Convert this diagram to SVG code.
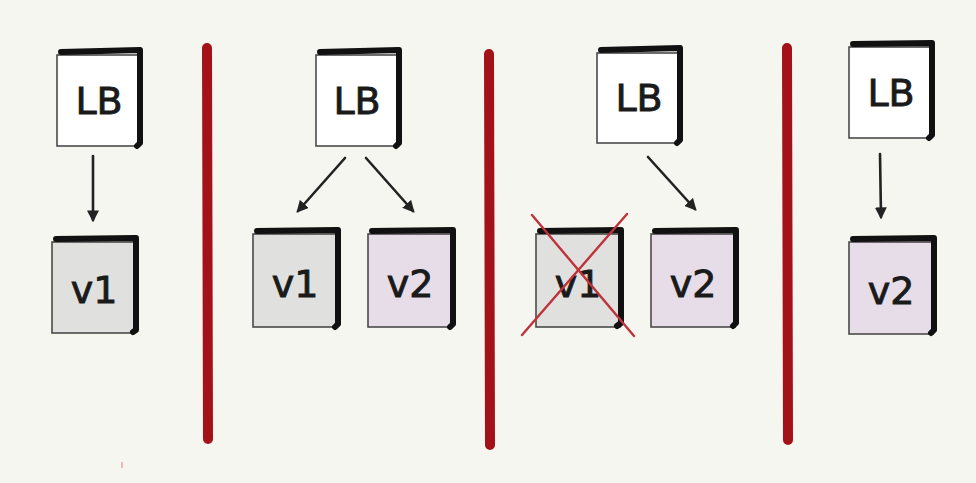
<svg xmlns="http://www.w3.org/2000/svg" width="976" height="483" viewBox="0 0 976 483">
<defs>
<style>
.face{stroke:#4a4a4a;stroke-width:1.6}
.lb{fill:#ffffff}
.g{fill:#e0e1de}
.p{fill:#e6dde8}
.edge{fill:none;stroke:#111;stroke-width:6;stroke-linecap:round;stroke-linejoin:round}
.t{font-family:"DejaVu Sans",sans-serif;font-size:38px;fill:#1a1a1a;stroke:#1a1a1a;stroke-width:0.9;text-anchor:middle}
.con{fill:none;stroke:#222;stroke-width:2.6;stroke-linecap:round}
.bar{stroke:#a31219;stroke-width:10;stroke-linecap:round}
.x{stroke:#c0323a;stroke-width:2.4;stroke-linecap:round}
</style>
<marker id="ah" viewBox="0 0 10 10" refX="8" refY="5" markerWidth="4.6" markerHeight="4.6" orient="auto">
<path d="M0,0 L10,5 L0,10 z" fill="#222"/>
</marker>
</defs>
<rect width="976" height="483" fill="#f5f6f0"/>

<g id="dividers">
<line class="bar" x1="207" y1="48" x2="208" y2="439"/>
<line class="bar" x1="489" y1="54" x2="490" y2="445"/>
<line class="bar" x1="787" y1="48" x2="788" y2="440"/>
<line x1="122" y1="462" x2="122" y2="468" stroke="#e08080" stroke-width="1"/>
</g>

<g id="connectors">
<line class="con" x1="93" y1="156" x2="93" y2="220" marker-end="url(#ah)"/>
<line class="con" x1="345" y1="158" x2="298" y2="211" marker-end="url(#ah)"/>
<line class="con" x1="366" y1="158" x2="413" y2="211" marker-end="url(#ah)"/>
<line class="con" x1="648" y1="157" x2="695" y2="209" marker-end="url(#ah)"/>
<line class="con" x1="880" y1="154" x2="881" y2="217" marker-end="url(#ah)"/>
</g>

<g id="lb1">
<rect class="face lb" x="57" y="55" width="82" height="91"/>
<path class="edge" d="M61,52 L140,50 L140,143 L137,146"/>
<text class="t" x="99" y="114">LB</text>
</g>
<g id="v1a">
<rect class="face g" x="52" y="242" width="82" height="91"/>
<path class="edge" d="M56,239 L136,238 L136,330 L133,332"/>
<text class="t" x="94" y="303">v1</text>
</g>

<g id="lb2">
<rect class="face lb" x="316" y="55" width="81" height="91"/>
<path class="edge" d="M320,52 L399,50 L399,143 L396,146"/>
<text class="t" x="357" y="114">LB</text>
</g>
<g id="v1b">
<rect class="face g" x="253" y="234" width="84" height="93"/>
<path class="edge" d="M257,231 L338,230 L338,324 L335,327"/>
<text class="t" x="295" y="297">v1</text>
</g>
<g id="v2b">
<rect class="face p" x="368" y="234" width="84" height="93"/>
<path class="edge" d="M372,231 L453,230 L453,324 L450,327"/>
<text class="t" x="410" y="297">v2</text>
</g>

<g id="lb3">
<rect class="face lb" x="597" y="53" width="82" height="90"/>
<path class="edge" d="M601,50 L680,48 L680,140 L677,143"/>
<text class="t" x="639" y="111">LB</text>
</g>
<g id="v1c">
<rect class="face g" x="536" y="234" width="84" height="93"/>
<path class="edge" d="M540,231 L621,230 L621,323 L617,326"/>
<text class="t" x="578" y="297">v1</text>
<line class="x" x1="532" y1="215" x2="634" y2="336"/>
<line class="x" x1="627" y1="214" x2="522" y2="335"/>
</g>
<g id="v2c">
<rect class="face p" x="651" y="234" width="84" height="93"/>
<path class="edge" d="M655,231 L736,230 L736,323 L733,326"/>
<text class="t" x="693" y="297">v2</text>
</g>

<g id="lb4">
<rect class="face lb" x="849" y="47" width="82" height="91"/>
<path class="edge" d="M853,44 L932,43 L932,135 L929,138"/>
<text class="t" x="891" y="106">LB</text>
</g>
<g id="v2d">
<rect class="face p" x="849" y="242" width="84" height="92"/>
<path class="edge" d="M853,239 L934,238 L934,330 L931,333"/>
<text class="t" x="891" y="304">v2</text>
</g>
</svg>
